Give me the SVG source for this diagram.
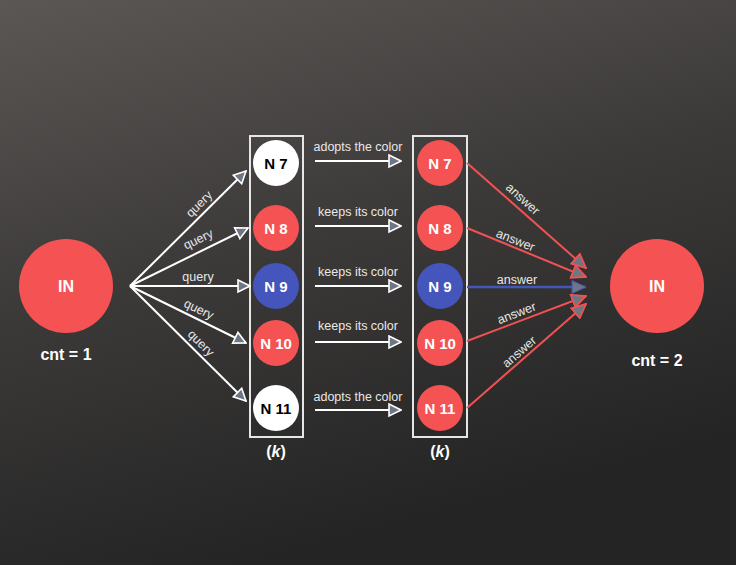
<svg xmlns="http://www.w3.org/2000/svg" width="736" height="565" viewBox="0 0 736 565">
<defs>
<linearGradient id="bg" x1="0" y1="0" x2="0.35" y2="1">
<stop offset="0" stop-color="#5b5755"/>
<stop offset="0.5" stop-color="#3c3a39"/>
<stop offset="1" stop-color="#242424"/>
</linearGradient>
<marker id="aw" viewBox="0 0 14 15" refX="13" refY="7.5" markerWidth="14" markerHeight="15" markerUnits="userSpaceOnUse" orient="auto">
<path d="M1,1.5 L13,7.5 L1,13.5 Z" fill="#6d7684" stroke="#ffffff" stroke-width="1.6" stroke-linejoin="miter"/>
</marker>
<marker id="ar" viewBox="0 0 16 16" refX="15" refY="8" markerWidth="16" markerHeight="16" markerUnits="userSpaceOnUse" orient="auto">
<path d="M1,1.5 L15,8 L1,14.5 Z" fill="#6d7684" stroke="#f05252" stroke-width="1.8"/>
</marker>
<marker id="ab" viewBox="0 0 16 16" refX="15" refY="8" markerWidth="16" markerHeight="16" markerUnits="userSpaceOnUse" orient="auto">
<path d="M1,1.5 L15,8 L1,14.5 Z" fill="#6d7684" stroke="#4455bb" stroke-width="1"/>
</marker>
</defs>
<style>
.lbl{font-family:"Liberation Sans",Arial,sans-serif;font-size:12.5px;fill:#e8e8e8;text-anchor:middle}
.nt{font-family:"Liberation Sans",Arial,sans-serif;font-size:15px;font-weight:bold;text-anchor:middle;dominant-baseline:central}
.w{fill:#ffffff}
.b{fill:#000000}
.red{fill:#f55353}
.blue{fill:#4455bb}
.white{fill:#ffffff}
.box{fill:none;stroke:#e6e6e6;stroke-width:2}
.q{stroke:#ffffff;stroke-width:2;fill:none;marker-end:url(#aw)}
.ans{stroke:#f05252;stroke-width:2;fill:none;marker-end:url(#ar)}
.big{font-family:"Liberation Sans",Arial,sans-serif;font-size:16px;font-weight:bold;fill:#ffffff;text-anchor:middle}
</style>
<rect x="0" y="0" width="736" height="565" fill="url(#bg)"/>

<g id="in-left">
<circle cx="66" cy="286" r="47" class="red"/>
<text x="66" y="292" class="big">IN</text>
<text x="66" y="360" class="big">cnt = 1</text>
</g>
<g id="in-right">
<circle cx="657" cy="286" r="47" class="red"/>
<text x="657" y="292" class="big">IN</text>
<text x="657" y="366" class="big">cnt = 2</text>
</g>

<g id="box-left">
<rect x="250" y="136" width="53" height="301" class="box"/>
<text x="276" y="457" class="big">(<tspan font-style="italic">k</tspan>)</text>
</g>
<g id="box-right">
<rect x="413" y="136" width="54" height="301" class="box"/>
<text x="440" y="457" class="big">(<tspan font-style="italic">k</tspan>)</text>
</g>

<g id="l-n7"><circle cx="276" cy="163" r="23" class="white"/><text x="276" y="163" class="nt b">N 7</text></g>
<g id="l-n8"><circle cx="276" cy="228" r="23" class="red"/><text x="276" y="228" class="nt w">N 8</text></g>
<g id="l-n9"><circle cx="276" cy="286" r="23" class="blue"/><text x="276" y="286" class="nt w">N 9</text></g>
<g id="l-n10"><circle cx="276" cy="343" r="23" class="red"/><text x="276" y="343" class="nt w">N 10</text></g>
<g id="l-n11"><circle cx="276" cy="408" r="23" class="white"/><text x="276" y="408" class="nt b">N 11</text></g>

<g id="r-n7"><circle cx="440" cy="163" r="23" class="red"/><text x="440" y="163" class="nt w">N 7</text></g>
<g id="r-n8"><circle cx="440" cy="228" r="23" class="red"/><text x="440" y="228" class="nt w">N 8</text></g>
<g id="r-n9"><circle cx="440" cy="286" r="23" class="blue"/><text x="440" y="286" class="nt w">N 9</text></g>
<g id="r-n10"><circle cx="440" cy="343" r="23" class="red"/><text x="440" y="343" class="nt w">N 10</text></g>
<g id="r-n11"><circle cx="440" cy="408" r="23" class="red"/><text x="440" y="408" class="nt w">N 11</text></g>

<g id="connectors">
<line x1="130" y1="286" x2="246" y2="171" class="q"/>
<line x1="130" y1="286" x2="248" y2="228" class="q"/>
<line x1="130" y1="286" x2="250" y2="286" class="q"/>
<line x1="130" y1="286" x2="246" y2="343" class="q"/>
<line x1="130" y1="286" x2="246" y2="401" class="q"/>
<text class="lbl" transform="translate(202,207) rotate(-45)">query</text>
<text class="lbl" transform="translate(200,243) rotate(-26)">query</text>
<text class="lbl" transform="translate(198,281)">query</text>
<text class="lbl" transform="translate(197,313) rotate(26)">query</text>
<text class="lbl" transform="translate(198,346) rotate(45)">query</text>

<line x1="315" y1="161" x2="401" y2="161" class="q"/>
<line x1="315" y1="226" x2="401" y2="226" class="q"/>
<line x1="315" y1="286" x2="401" y2="286" class="q"/>
<line x1="315" y1="342" x2="401" y2="342" class="q"/>
<line x1="315" y1="410" x2="401" y2="410" class="q"/>
<text x="358" y="151" class="lbl">adopts the color</text>
<text x="358" y="216" class="lbl">keeps its color</text>
<text x="358" y="276" class="lbl">keeps its color</text>
<text x="358" y="330" class="lbl">keeps its color</text>
<text x="358" y="401" class="lbl">adopts the color</text>

<line x1="467" y1="163" x2="586" y2="268" class="ans"/>
<line x1="467" y1="228" x2="586" y2="277" class="ans"/>
<line x1="467" y1="287" x2="586" y2="287" stroke="#4455bb" stroke-width="2.5" marker-end="url(#ab)"/>
<line x1="467" y1="341" x2="586" y2="296" class="ans"/>
<line x1="467" y1="408" x2="586" y2="304" class="ans"/>
<text class="lbl" transform="translate(520,202) rotate(42)">answer</text>
<text class="lbl" transform="translate(514,244) rotate(22)">answer</text>
<text class="lbl" transform="translate(517,284)">answer</text>
<text class="lbl" transform="translate(518,317) rotate(-21)">answer</text>
<text class="lbl" transform="translate(522,355) rotate(-41)">answer</text>
</g>
</svg>
